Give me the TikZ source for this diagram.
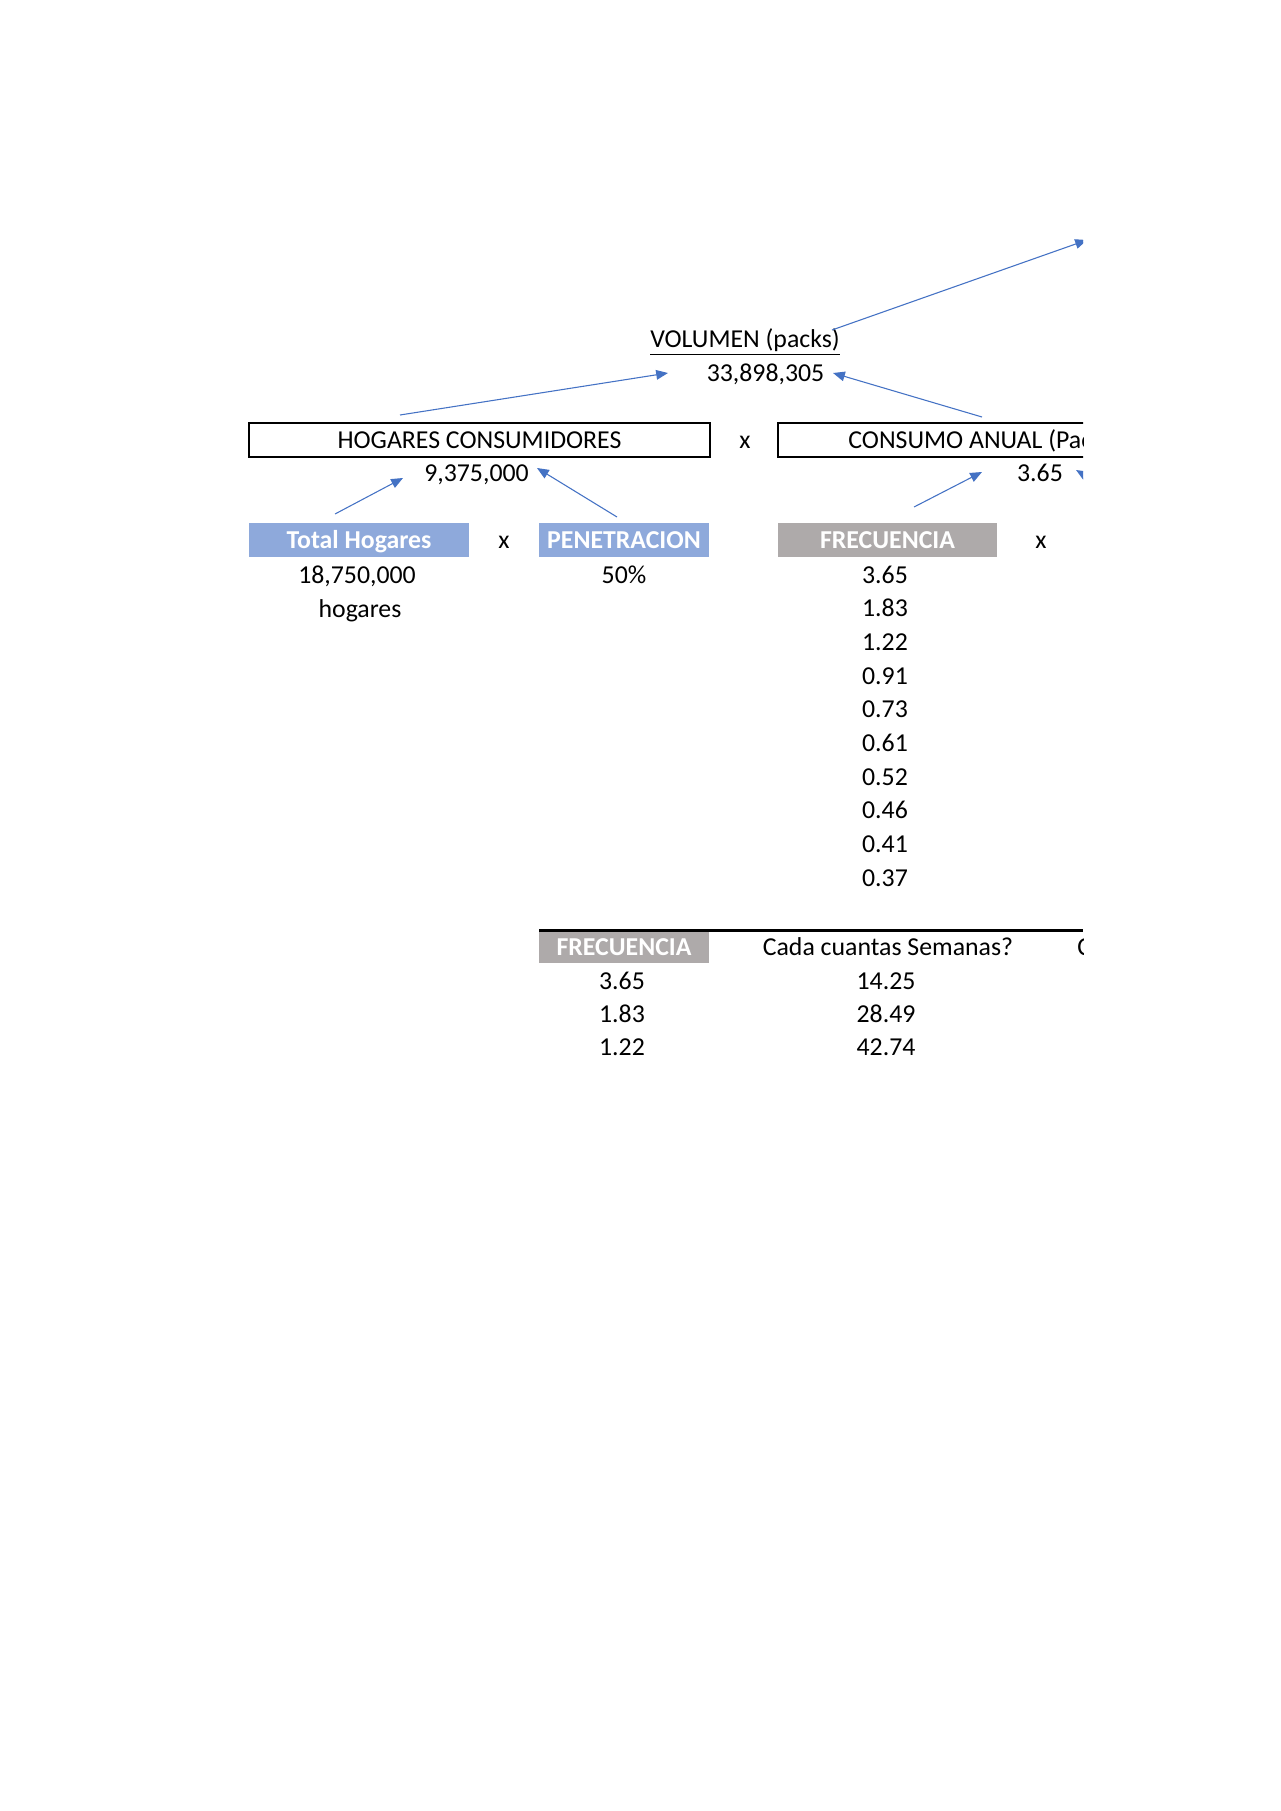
\documentclass[tikz,border=0pt]{standalone}
\usepackage{fontspec}
\setmainfont{Carlito}
\usetikzlibrary{arrows.meta,positioning}
\definecolor{azulflecha}{HTML}{4472C4}
\definecolor{azulcelda}{HTML}{8EA9DB}
\definecolor{griscelda}{HTML}{AEAAAA}
\newcommand{\px}{0.46506pt}
\begin{document}
\begin{tikzpicture}
[x=0.46506pt,y=-0.46506pt,
every node/.style={font=\fontsize{12}{14}\selectfont,inner sep=0pt},
cifra/.style={anchor=base},
caja/.style={draw,line width=0.7pt,minimum height=34*\px,
text height=7.7pt,text depth=0pt},
celdaazul/.style={fill=azulcelda,text=white,minimum height=34*\px,
font=\fontsize{12}{14}\selectfont\bfseries,
text height=7.7pt,text depth=0pt},
celdagris/.style={fill=griscelda,text=white,
font=\fontsize{12}{14}\selectfont\bfseries,
text height=7.7pt,text depth=0pt},
flecha/.style={azulflecha,line width=0.5pt,
-{Triangle[length=5.5pt,width=4.5pt]}}
]
\useasboundingbox (0,0) rectangle (1280,1811);
\begin{scope}
\clip (0,0) rectangle (1083,1811);
% volumen
\node [cifra] (volT) at (745,347) {\underline{VOLUMEN (packs)}};
\node [cifra] (vol) at (765.5,381) {33,898,305};
% fila de las cajas
\node [caja,minimum width=461*\px] (hog) at (479.5,440) {HOGARES CONSUMIDORES};
\node [cifra] (x1) at (745,448) {x};
\node [caja,minimum width=461*\px] (cons) at (1008.5,440) {};
\node [anchor=base west] (consT) at (848,448) {CONSUMO ANUAL (Pac};
\node [cifra] (hogN) at (476.5,481) {9,375,000};
\node [cifra] (consN) at (1040,481) {3.65};
% celdas de color
\node [celdaazul,minimum width=220*\px] (tot) at (359,540) {Total Hogares};
\node [cifra] (x2) at (504,548) {x};
\node [celdaazul,minimum width=170*\px] (pen) at (624,540) {PENETRACION};
\node [celdagris,minimum width=219*\px,minimum height=34*\px] (frec) at (887.5,540) {FRECUENCIA};
\node [cifra] (x3) at (1041,548) {x};
\node [cifra] (totN) at (357,583) {18,750,000};
\node [cifra] (totU) at (360,617) {hogares};
\node [cifra] (penN) at (624,583) {50\%};
\foreach \v [count=\i from 0] in {3.65,1.83,1.22,0.91,0.73,0.61,0.52,0.46,0.41,0.37}
\node [cifra] (f\i) at (885,583+33.7*\i) {\v};
% tabla de abajo
\coordinate (linA) at (539,930);
\coordinate (linB) at (1083,930);
\draw [line width=1.4pt] (linA) -- (linB);
\node [celdagris,minimum width=170*\px,minimum height=31*\px] (frec2) at (624,947.5) {FRECUENCIA};
\node [cifra] (sem) at (888,955) {Cada cuantas Semanas?};
\node [anchor=base west] (col3) at (1077,955) {C};
\foreach \a/\b [count=\i from 0] in {3.65/14.25,1.83/28.49,1.22/42.74}{
\node [cifra] (ta\i) at (622,989+33*\i) {\a};
\node [cifra] (tb\i) at (886,989+33*\i) {\b};
}
% flechas
\coordinate (p1) at (400,415);
\coordinate (q1) at (668,373);
\coordinate (p2) at (982,417);
\coordinate (q2) at (833,373);
\coordinate (p3) at (832,330);
\coordinate (q3) at (1087,240);
\coordinate (p4) at (335,514);
\coordinate (q4) at (403,478);
\coordinate (p5) at (617,517);
\coordinate (q5) at (537,468);
\coordinate (p6) at (914,507);
\coordinate (q6) at (982,472);
\coordinate (p7) at (1155,517);
\coordinate (q7) at (1076,470);
\foreach \i in {1,...,7}
\draw [flecha] (p\i) -- (q\i);
\end{scope}
\end{tikzpicture}
\end{document}
